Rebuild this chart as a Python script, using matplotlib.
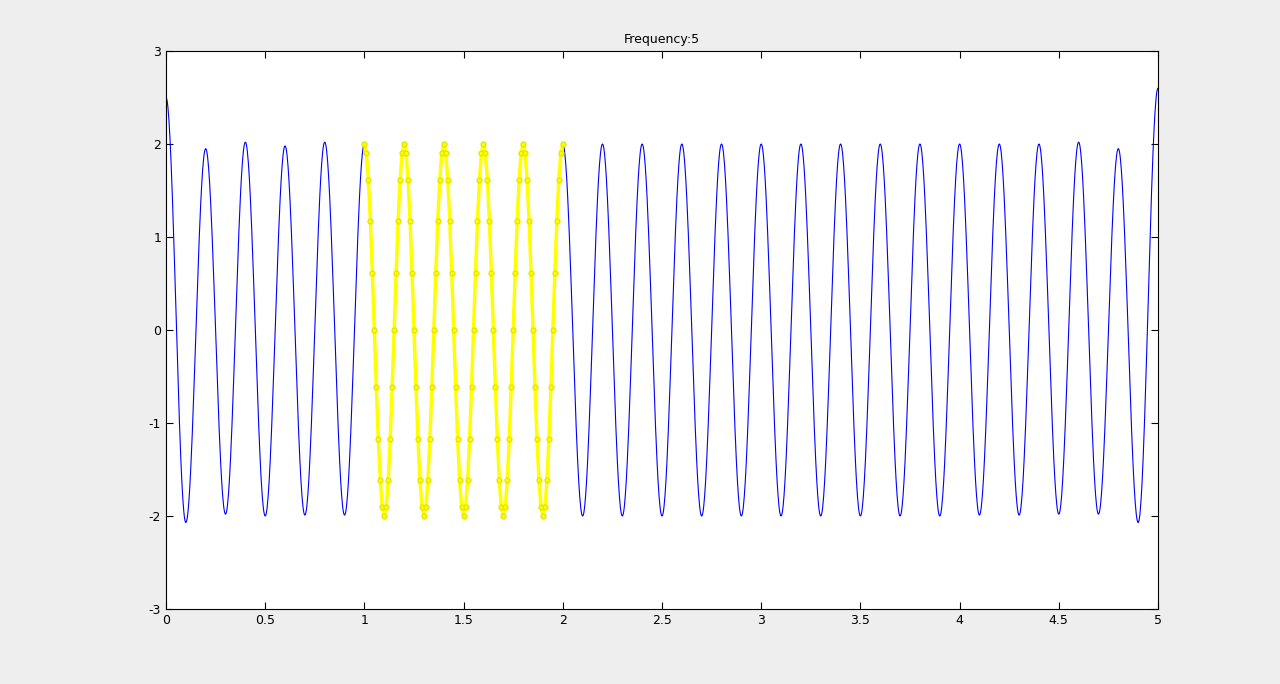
import numpy as np
import matplotlib.pyplot as plt

plt.rcParams['axes.unicode_minus'] = False

freq = 5
# extrema of the reconstructed wave, one every 0.1 s
ext_t = [round(0.1 * k, 1) for k in range(51)]
ext_v = [2.5, -2.07, 1.95, -1.98, 2.02, -2.0, 1.98, -1.99, 2.02, -1.99,
         2.0, -2.0, 2.0, -2.0, 2.0, -2.0, 2.0, -2.0, 2.0, -2.0,
         2.0, -2.0, 2.0, -2.0, 2.0, -2.0, 2.0, -2.0, 2.0, -2.0,
         2.0, -2.0, 2.0, -2.0, 2.0, -2.0, 2.0, -2.0, 2.0, -2.0,
         2.0, -1.99, 2.0, -1.99, 2.0, -1.98, 2.02, -1.98, 1.95, -2.07, 2.6]
# yellow highlighted segment
seg_start, seg_end = 1.0, 2.0

# blue curve: half-cosine between neighbouring extrema
t = []
y = []
for i in range(len(ext_t) - 1):
    s = np.linspace(0, 1, 40, endpoint=False)
    a, b = ext_v[i], ext_v[i + 1]
    t.extend(ext_t[i] + 0.1 * s)
    y.extend((a + b) / 2 + (a - b) / 2 * np.cos(np.pi * s))
t.append(ext_t[-1]); y.append(ext_v[-1])
t = np.array(t); y = np.array(y)

ts = np.linspace(seg_start, seg_end, 101)
ys = 2 * np.cos(2 * np.pi * freq * ts)

fig = plt.figure(figsize=(12.8, 6.84), dpi=100, facecolor='#eeeeee')
ax = fig.add_axes([166/1280, 1 - 609/684, (1158-166)/1280, (609-51)/684])
ax.plot(t, y, color='#0000ff', lw=0.8)
ax.plot(ts, ys, color='#ffff00', lw=2.5, marker='o', ms=3.5, mec='#e5e500')
ax.set_xlim(0, 5)
ax.set_ylim(-3, 3)
ax.set_xticks(np.arange(0, 5.01, 0.5))
ax.set_xticklabels(['0', '0.5', '1', '1.5', '2', '2.5', '3', '3.5', '4', '4.5', '5'])
ax.set_yticks(range(-3, 4))
ax.tick_params(direction='in', top=True, right=True, labelsize=9, length=5)
ax.set_title('Frequency:5', fontsize=9)
fig.savefig('out.png', dpi=100, facecolor=fig.get_facecolor())
